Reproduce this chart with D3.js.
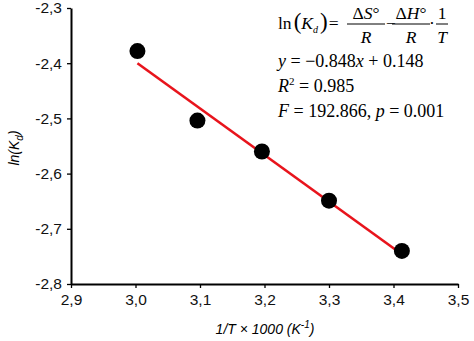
<!DOCTYPE html>
<html><head><meta charset="utf-8">
<script src="https://cdn.jsdelivr.net/npm/d3@7"></script>
<style>body{margin:0;background:#fff}svg{display:block}</style>
</head><body>
<svg id="c" width="474" height="341"></svg>
<script>
const xVals = [3.003, 3.096, 3.196, 3.300, 3.413];
const yVals = [-2.378, -2.504, -2.560, -2.649, -2.740];
const fitX = [3.003, 3.413];
const fitY = [-2.400, -2.746];
const xTicks = [2.9, 3.0, 3.1, 3.2, 3.3, 3.4, 3.5];
const yTicks = [-2.3, -2.4, -2.5, -2.6, -2.7, -2.8];
const fmt = d => d.toFixed(1).replace('.', ',');

const svg = d3.select('#c');
const x = d3.scaleLinear().domain([2.9, 3.5]).range([71, 458]);
const y = d3.scaleLinear().domain([-2.8, -2.3]).range([284, 8]);

const sans = 'Liberation Sans, Arial, sans-serif';
const serif = 'Liberation Serif, Times New Roman, serif';

const gx = svg.append('g').attr('transform', `translate(0,${y(-2.8)})`)
  .call(d3.axisBottom(x).tickValues(xTicks).tickFormat(fmt).tickSize(4).tickSizeOuter(0).tickPadding(6));
const gy = svg.append('g').attr('transform', `translate(${x(2.9)},0)`)
  .call(d3.axisLeft(y).tickValues(yTicks).tickFormat(fmt).tickSize(4).tickSizeOuter(0).tickPadding(5));
[gx, gy].forEach(g => {
  g.select('.domain').attr('stroke', '#000').attr('stroke-width', 2);
  g.selectAll('.tick line').attr('stroke', '#000').attr('stroke-width', 1.3);
  g.selectAll('.tick text').attr('font-family', sans).attr('font-size', 15.5).attr('fill', '#111');
});

// fit line
svg.append('path')
  .datum(fitX.map((v, i) => [v, fitY[i]]))
  .attr('d', d3.line().x(d => x(d[0])).y(d => y(d[1])))
  .attr('stroke', '#e8141c').attr('stroke-width', 2.6).attr('fill', 'none');

// points
svg.selectAll('circle.pt').data(xVals).join('circle')
  .attr('class', 'pt')
  .attr('cx', d => x(d)).attr('cy', (d, i) => y(yVals[i]))
  .attr('r', 8).attr('fill', '#000');

// axis labels
const yl = svg.append('text').attr('font-family', sans).attr('font-size', 14).attr('font-style', 'italic')
  .attr('text-anchor', 'middle').attr('transform', 'translate(19,148) rotate(-90)');
yl.append('tspan').text('ln(K');
yl.append('tspan').attr('font-size', 10).attr('dy', 4).text('d');
yl.append('tspan').attr('dy', -4).text(')');

const xl = svg.append('text').attr('font-family', sans).attr('font-size', 14).attr('font-style', 'italic')
  .attr('text-anchor', 'middle').attr('x', 265).attr('y', 334);
xl.append('tspan').text('1/T × 1000 (K');
xl.append('tspan').attr('font-size', 10).attr('dy', -6).text('-1');
xl.append('tspan').attr('dy', 6).text(')');

// equation block
const fs = 17.5;
const eq = svg.append('g').attr('font-family', serif).attr('font-size', fs).attr('fill', '#000');
const t1 = eq.append('text').attr('x', 278).attr('y', 29);
t1.append('tspan').text('ln');
t1.append('tspan').attr('font-size', 23).attr('dx', 2).text('(');
t1.append('tspan').attr('font-style', 'italic').text('K');
t1.append('tspan').attr('font-style', 'italic').attr('font-size', 10).attr('dy', 4).text('d');
t1.append('tspan').attr('font-size', 23).attr('dy', -4).attr('dx', 2).text(')');
t1.append('tspan').attr('dx', 1).text('=');

function frac(cx, num, den) {
  const n = eq.append('text').attr('x', cx).attr('y', 19).attr('text-anchor', 'middle');
  num(n);
  eq.append('line').attr('x1', cx - 19).attr('x2', cx + 19).attr('y1', 24).attr('y2', 24)
    .attr('stroke', '#000').attr('stroke-width', 1);
  eq.append('text').attr('x', cx).attr('y', 43).attr('text-anchor', 'middle').attr('font-style', 'italic').text(den);
}
function fracSmall(cx, top, den) {
  eq.append('text').attr('x', cx).attr('y', 19).attr('text-anchor', 'middle').text(top);
  eq.append('line').attr('x1', cx - 6).attr('x2', cx + 6).attr('y1', 24).attr('y2', 24)
    .attr('stroke', '#000').attr('stroke-width', 1);
  eq.append('text').attr('x', cx).attr('y', 43).attr('text-anchor', 'middle').attr('font-style', 'italic').text(den);
}
frac(366, n => { n.append('tspan').text('Δ'); n.append('tspan').attr('font-style', 'italic').text('S'); n.append('tspan').text('°'); }, 'R');
eq.append('text').attr('x', 391).attr('y', 29).attr('text-anchor', 'middle').text('−');
frac(411, n => { n.append('tspan').text('Δ'); n.append('tspan').attr('font-style', 'italic').text('H'); n.append('tspan').text('°'); }, 'R');
eq.append('text').attr('x', 432).attr('y', 29).attr('text-anchor', 'middle').text('·');
fracSmall(442, '1', 'T');

const t2 = eq.append('text').attr('x', 278).attr('y', 67).attr('font-size', 18);
t2.append('tspan').attr('font-style', 'italic').text('y');
t2.append('tspan').text(' = −0.848');
t2.append('tspan').attr('font-style', 'italic').text('x');
t2.append('tspan').text(' + 0.148');

const t3 = eq.append('text').attr('x', 278).attr('y', 92).attr('font-size', 18);
t3.append('tspan').attr('font-style', 'italic').text('R');
t3.append('tspan').attr('font-size', 11).attr('dy', -7).text('2');
t3.append('tspan').attr('dy', 7).text(' = 0.985');

const t4 = eq.append('text').attr('x', 278).attr('y', 117).attr('font-size', 18);
t4.append('tspan').attr('font-style', 'italic').text('F');
t4.append('tspan').text(' = 192.866, ');
t4.append('tspan').attr('font-style', 'italic').text('p');
t4.append('tspan').text(' = 0.001');
</script>
</body></html>
